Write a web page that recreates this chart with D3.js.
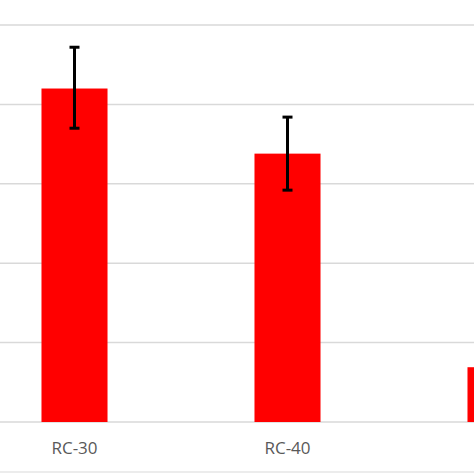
<!DOCTYPE html>
<html><head><meta charset="utf-8">
<script src="https://cdn.jsdelivr.net/npm/d3@7"></script>
<style>body{margin:0;background:#fff}</style>
</head><body>
<script>
'use strict'

let categories = ['RC-30', 'RC-40', 'RC-50']
let values = [4.2, 3.38, 0.69]
let errLow = [3.7, 2.92, 0.6]
let errHigh = [4.72, 3.84, 0.78]
let gridTicks = [0, 1, 2, 3, 4, 5]

let svg = d3.select('body').append('svg')
	.attr('width', 474)
	.attr('height', 474)

let x = d3.scaleBand()
	.domain(categories)
	.range([-32, 607])
	.paddingInner(0.69)
	.paddingOuter(0.345)

let y = d3.scaleLinear().domain([0, 5]).range([422, 25])

svg.selectAll('line.grid').data(gridTicks).enter().append('line')
	.attr('x1', 0).attr('x2', 474)
	.attr('y1', d => y(d)).attr('y2', d => y(d))
	.attr('stroke', '#d9d9d9').attr('stroke-width', 1.5)

svg.append('line')
	.attr('x1', 0).attr('x2', 474).attr('y1', 472).attr('y2', 472)
	.attr('stroke', '#e6e6e6').attr('stroke-width', 1.5)

svg.selectAll('rect.bar').data(categories).enter().append('rect')
	.attr('x', d => x(d))
	.attr('width', x.bandwidth())
	.attr('y', (d, i) => y(values[i]))
	.attr('height', (d, i) => y(0) - y(values[i]))
	.attr('fill', '#ff0000')

let err = svg.selectAll('g.err').data(categories).enter().append('g')
	.attr('stroke', '#000').attr('stroke-width', 3)
err.append('line')
	.attr('x1', d => x(d) + x.bandwidth() / 2).attr('x2', d => x(d) + x.bandwidth() / 2)
	.attr('y1', (d, i) => y(errLow[i])).attr('y2', (d, i) => y(errHigh[i]))
err.append('line')
	.attr('x1', d => x(d) + x.bandwidth() / 2 - 5).attr('x2', d => x(d) + x.bandwidth() / 2 + 5)
	.attr('y1', (d, i) => y(errLow[i])).attr('y2', (d, i) => y(errLow[i]))
err.append('line')
	.attr('x1', d => x(d) + x.bandwidth() / 2 - 5).attr('x2', d => x(d) + x.bandwidth() / 2 + 5)
	.attr('y1', (d, i) => y(errHigh[i])).attr('y2', (d, i) => y(errHigh[i]))

svg.selectAll('text.lab').data(categories).enter().append('text')
	.attr('x', d => x(d) + x.bandwidth() / 2)
	.attr('y', 454)
	.attr('text-anchor', 'middle')
	.attr('font-family', 'Open Sans, sans-serif')
	.attr('font-size', 17)
	.attr('fill', '#595959')
	.text(d => d)
</script>
</body></html>
